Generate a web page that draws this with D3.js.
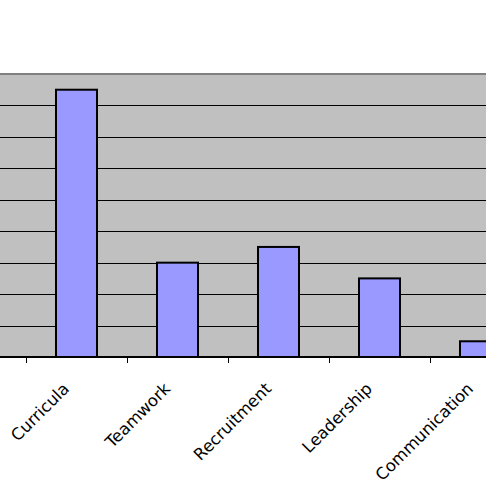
<!DOCTYPE html>
<html><head><meta charset="utf-8">
<script src="https://cdn.jsdelivr.net/npm/d3@7"></script>
<style>body{margin:0;background:#fff}svg{display:block}</style>
</head><body>
<script>
const categories = ["Curricula", "Teamwork", "Recruitment", "Leadership", "Communication"];
const values = [17, 6, 7, 5, 1];
const yTicks = [0, 2, 4, 6, 8, 10, 12, 14, 16, 18];

const W = 486, H = 486;
const svg = d3.select("body").append("svg").attr("width", W).attr("height", H);

const plot = {left: 0, right: W, top: 74, bottom: 357};
const x = d3.scaleBand().domain(categories).range([26, 531]).paddingInner(0.594).paddingOuter(0.297);
const y = d3.scaleLinear().domain([0, 18]).range([plot.bottom, plot.top]);
const step = x.step();

svg.append("rect").attr("x", plot.left).attr("y", plot.top)
  .attr("width", plot.right - plot.left).attr("height", plot.bottom - plot.top)
  .attr("fill", "#c0c0c0");

// gridlines
svg.append("g").selectAll("line").data(yTicks.filter(t => t > 0 && t < 18)).join("line")
  .attr("x1", plot.left).attr("x2", plot.right)
  .attr("y1", d => Math.round(y(d)) + 0.5).attr("y2", d => Math.round(y(d)) + 0.5)
  .attr("stroke", "#000").attr("stroke-width", 1.2);

// top border
svg.append("line").attr("x1", plot.left).attr("x2", plot.right)
  .attr("y1", y(18)).attr("y2", y(18)).attr("stroke", "#808080").attr("stroke-width", 2);

// bars
svg.append("g").selectAll("rect").data(categories).join("rect")
  .attr("x", d => x(d)).attr("width", x.bandwidth())
  .attr("y", (d, i) => y(values[i])).attr("height", (d, i) => y(0) - y(values[i]))
  .attr("fill", "#9999ff").attr("stroke", "#000").attr("stroke-width", 2);

// x axis line
svg.append("line").attr("x1", plot.left).attr("x2", plot.right)
  .attr("y1", y(0)).attr("y2", y(0)).attr("stroke", "#000").attr("stroke-width", 2);

// ticks at category boundaries
const bounds = categories.map(d => x(d) + x.bandwidth() / 2 - step / 2);
bounds.push(x(categories[categories.length - 1]) + x.bandwidth() / 2 + step / 2);
svg.append("g").selectAll("line").data(bounds).join("line")
  .attr("x1", d => Math.round(d) + 0.5).attr("x2", d => Math.round(d) + 0.5)
  .attr("y1", y(0)).attr("y2", y(0) + 6)
  .attr("stroke", "#000").attr("stroke-width", 1);

// labels
svg.append("g").selectAll("text").data(categories).join("text")
  .attr("transform", d => `translate(${x(d) + x.bandwidth() / 2 - 15},${y(0) + 24}) rotate(-45)`)
  .attr("text-anchor", "end").attr("dy", "0.75em")
  .attr("font-family", "DejaVu Sans, Verdana, sans-serif").attr("font-size", 16.5)
  .attr("fill", "#000").text(d => d);
</script>
</body></html>
